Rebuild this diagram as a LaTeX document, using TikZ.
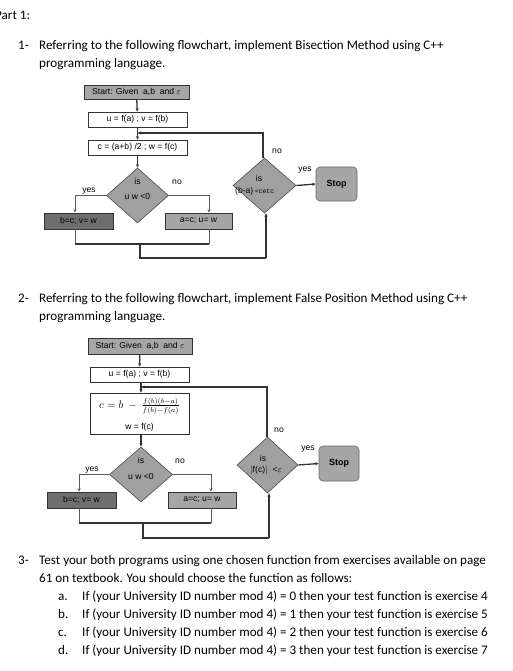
\documentclass[tikz,border=0pt]{standalone}
\usepackage{fontspec}
\setmainfont{Carlito}
\newfontfamily\chartfont{Liberation Sans}
\newfontfamily\monofont{Liberation Mono}
\usetikzlibrary{shapes.geometric,arrows.meta}
\definecolor{boxgray}{HTML}{A6A6A6}
\definecolor{darkbox}{HTML}{6E6E6E}
\definecolor{diagray}{HTML}{A0A0A0}
\definecolor{linegray}{HTML}{333333}
\tikzset{
  doc/.style={anchor=base west,inner sep=0pt,font=\fontsize{13.1}{16}\selectfont},
  box/.style={draw=black!80,line width=0.6pt,inner sep=0pt,font=\chartfont\fontsize{8.6}{10}\selectfont},
  dia/.style={diamond,draw=black!70,fill=diagray,line width=0.6pt,inner sep=0pt,minimum width=62pt,minimum height=55pt},
  stopbox/.style={draw=black!60,fill=boxgray,rounded corners=4pt,line width=0.6pt,inner sep=0pt,font=\chartfont\bfseries\fontsize{9}{10}\selectfont},
  lbl/.style={inner sep=0pt,font=\chartfont\fontsize{8.6}{10}\selectfont},
  main/.style={draw=linegray,line width=1.3pt},
  branch/.style={draw=black!65,line width=0.7pt},
  arr/.style={-{Stealth[length=3.5pt,width=3pt]}},
}
\begin{document}
\begin{tikzpicture}[x=1pt,y=-1pt]
\useasboundingbox (0,0) rectangle (512,671);
\fill[white] (0,0) rectangle (512,671);
% ---------- text ----------
\node[doc] (p1) at (-5,20) {Part 1:};
\node[doc] (n1) at (18,50) {1-};
\node[doc] (t1a) at (39,50) {Referring to the following flowchart, implement Bisection Method using C++};
\node[doc] (t1b) at (39,68) {programming language.};
\node[doc] (n2) at (18,302) {2-};
\node[doc] (t2a) at (39,302) {Referring to the following flowchart, implement False Position Method using C++};
\node[doc] (t2b) at (39,320) {programming language.};
\node[doc] (n3) at (18,564) {3-};
\node[doc] (t3a) at (39,564) {Test your both programs using one chosen function from exercises available on page};
\node[doc] (t3b) at (39,582) {61 on textbook. You should choose the function as follows:};
\node[doc] (la) at (58,600) {a.};
\node[doc] (ta) at (82,600) {If (your University ID number mod 4) = 0 then your test function is exercise 4};
\node[doc] (lb) at (58,618) {b.};
\node[doc] (tb) at (82,618) {If (your University ID number mod 4) = 1 then your test function is exercise 5};
\node[doc] (lc) at (58,636) {c.};
\node[doc] (tc) at (82,636) {If (your University ID number mod 4) = 2 then your test function is exercise 6};
\node[doc] (ld) at (58,654) {d.};
\node[doc] (td) at (82,654) {If (your University ID number mod 4) = 3 then your test function is exercise 7};

% ---------- flowchart 1 ----------
\node[box,fill=boxgray,minimum width=105pt,minimum height=14pt] (s1) at (136.5,92) {Start: Given\ \ a,b\ \ and $\varepsilon$};
\node[box,fill=white,minimum width=99pt,minimum height=15pt] (u1) at (137.5,119.5) {u = f(a) ; v = f(b)};
\node[box,fill=white,minimum width=99pt,minimum height=15pt] (c1) at (137.5,147.5) {c = (a+b) /2 ; w = f(c)};
\node[dia] (d1) at (137.5,195.5) {};
\node[lbl] (d1a) at (137.5,181) {is};
\node[lbl] (d1b) at (137.5,197) {u w <0};
\node[box,fill=darkbox,minimum width=69pt,minimum height=16pt] (b1) at (78.5,221) {b=c; v= w};
\node[box,fill=boxgray,minimum width=67pt,minimum height=16pt] (a1) at (198.5,221) {a=c; u= w};
\node[dia,minimum width=63pt] (e1) at (264.5,185.5) {};
\node[lbl] (e1a) at (259,178) {is};
\node[lbl,anchor=west] (e1b) at (235,191) {(b-a)\,{\monofont\fontsize{6.5}{7}\selectfont <cetc}};
\node[stopbox,minimum width=41pt,minimum height=34pt] (st1) at (336.5,184) {Stop};
\node[lbl] (y1) at (89,191) {yes};
\node[lbl] (no1) at (177,182) {no};
\node[lbl] (no2) at (277,151) {no};
\node[lbl] (y2) at (305,170) {yes};
\coordinate (j1) at (137.5,133);
\coordinate (yl1) at (75,195.5);
\coordinate (nr1) at (209,195.5);
\coordinate (m1l) at (75,244);
\coordinate (m1r) at (209,244);
\coordinate (m1c) at (140,244);
\coordinate (m1d) at (140,258);
\coordinate (m1e) at (266,258);
\coordinate (lp1) at (263,133);
\draw[main,arr] (s1) -- (u1);
\draw[main,arr] (u1) -- (c1);
\draw[main,arr] (c1) -- (d1);
\draw[branch,arr] (d1.west) -- (yl1) -- (b1.north -| yl1);
\draw[branch,arr] (d1.east) -- (nr1) -- (a1.north -| nr1);
\draw[branch] (b1.south -| m1l) -- (m1l);
\draw[branch] (a1.south -| m1r) -- (m1r);
\draw[main] (m1l) -- (m1r);
\draw[main] (m1c) -- (m1d) -- (m1e);
\draw[main,arr] (m1e) -- (e1.south -| m1e);
\draw[main,arr] (e1.north -| lp1) -- (lp1) -- (j1);
\draw[main,arr] (e1.east) -- (st1.west);

% ---------- flowchart 2 ----------
\node[box,fill=boxgray,minimum width=104pt,minimum height=16pt] (s2) at (140,346) {Start: Given\ \ a,b\ \ and $\varepsilon$};
\node[box,fill=white,minimum width=99pt,minimum height=15pt] (u2) at (139.5,374.5) {u = f(a) ; v = f(b)};
\node[box,fill=white,minimum width=99pt,minimum height=41pt] (c2) at (139.5,413.5) {};
\node[inner sep=0pt,font=\fontsize{10.5}{12}\selectfont] (f2) at (139.5,406) {$c = b\ -\ \frac{f(b)(b-a)}{f(b)-f(a)}$};
\node[lbl] (w2) at (139.5,427) {w = f(c)};
\node[dia,minimum width=63pt] (d2) at (141,474.5) {};
\node[lbl] (d2a) at (141,460) {is};
\node[lbl] (d2b) at (141,477) {u w <0};
\node[box,fill=darkbox,minimum width=69pt,minimum height=16pt] (b2) at (81.5,500) {b=c; v= w};
\node[box,fill=boxgray,minimum width=68pt,minimum height=16pt] (a2) at (202,500) {a=c; u= w};
\node[dia,minimum width=61pt,minimum height=56pt] (e2) at (267.5,465) {};
\node[lbl] (e2a) at (263,458) {is};
\node[lbl] (e2b) at (266,470) {$|$f(c)$|$\ \ <$\varepsilon$};
\node[stopbox,minimum width=40pt,minimum height=35pt] (st2) at (339,463.5) {Stop};
\node[lbl] (y3) at (92,470) {yes};
\node[lbl] (no3) at (180,461) {no};
\node[lbl] (no4) at (279,430) {no};
\node[lbl] (y4) at (308,449) {yes};
\coordinate (j2) at (141,387);
\coordinate (yl2) at (79,474.5);
\coordinate (nr2) at (211,474.5);
\coordinate (m2l) at (79,523);
\coordinate (m2r) at (211,523);
\coordinate (m2c) at (143,523);
\coordinate (m2d) at (143,538);
\coordinate (m2e) at (269,538);
\coordinate (lp2) at (267,387);
\draw[main,arr] (s2) -- (u2);
\draw[main,arr] (u2.south -| j2) -- (c2.north -| j2);
\draw[main,arr] (c2.south -| d2) -- (d2);
\draw[branch,arr] (d2.west) -- (yl2) -- (b2.north -| yl2);
\draw[branch,arr] (d2.east) -- (nr2) -- (a2.north -| nr2);
\draw[branch] (b2.south -| m2l) -- (m2l);
\draw[branch] (a2.south -| m2r) -- (m2r);
\draw[main] (m2l) -- (m2r);
\draw[main] (m2c) -- (m2d) -- (m2e);
\draw[main,arr] (m2e) -- (e2.south -| m2e);
\draw[main,arr] (e2.north -| lp2) -- (lp2) -- (j2);
\draw[main,arr] (e2.east) -- (st2.west);
\end{tikzpicture}
\end{document}
